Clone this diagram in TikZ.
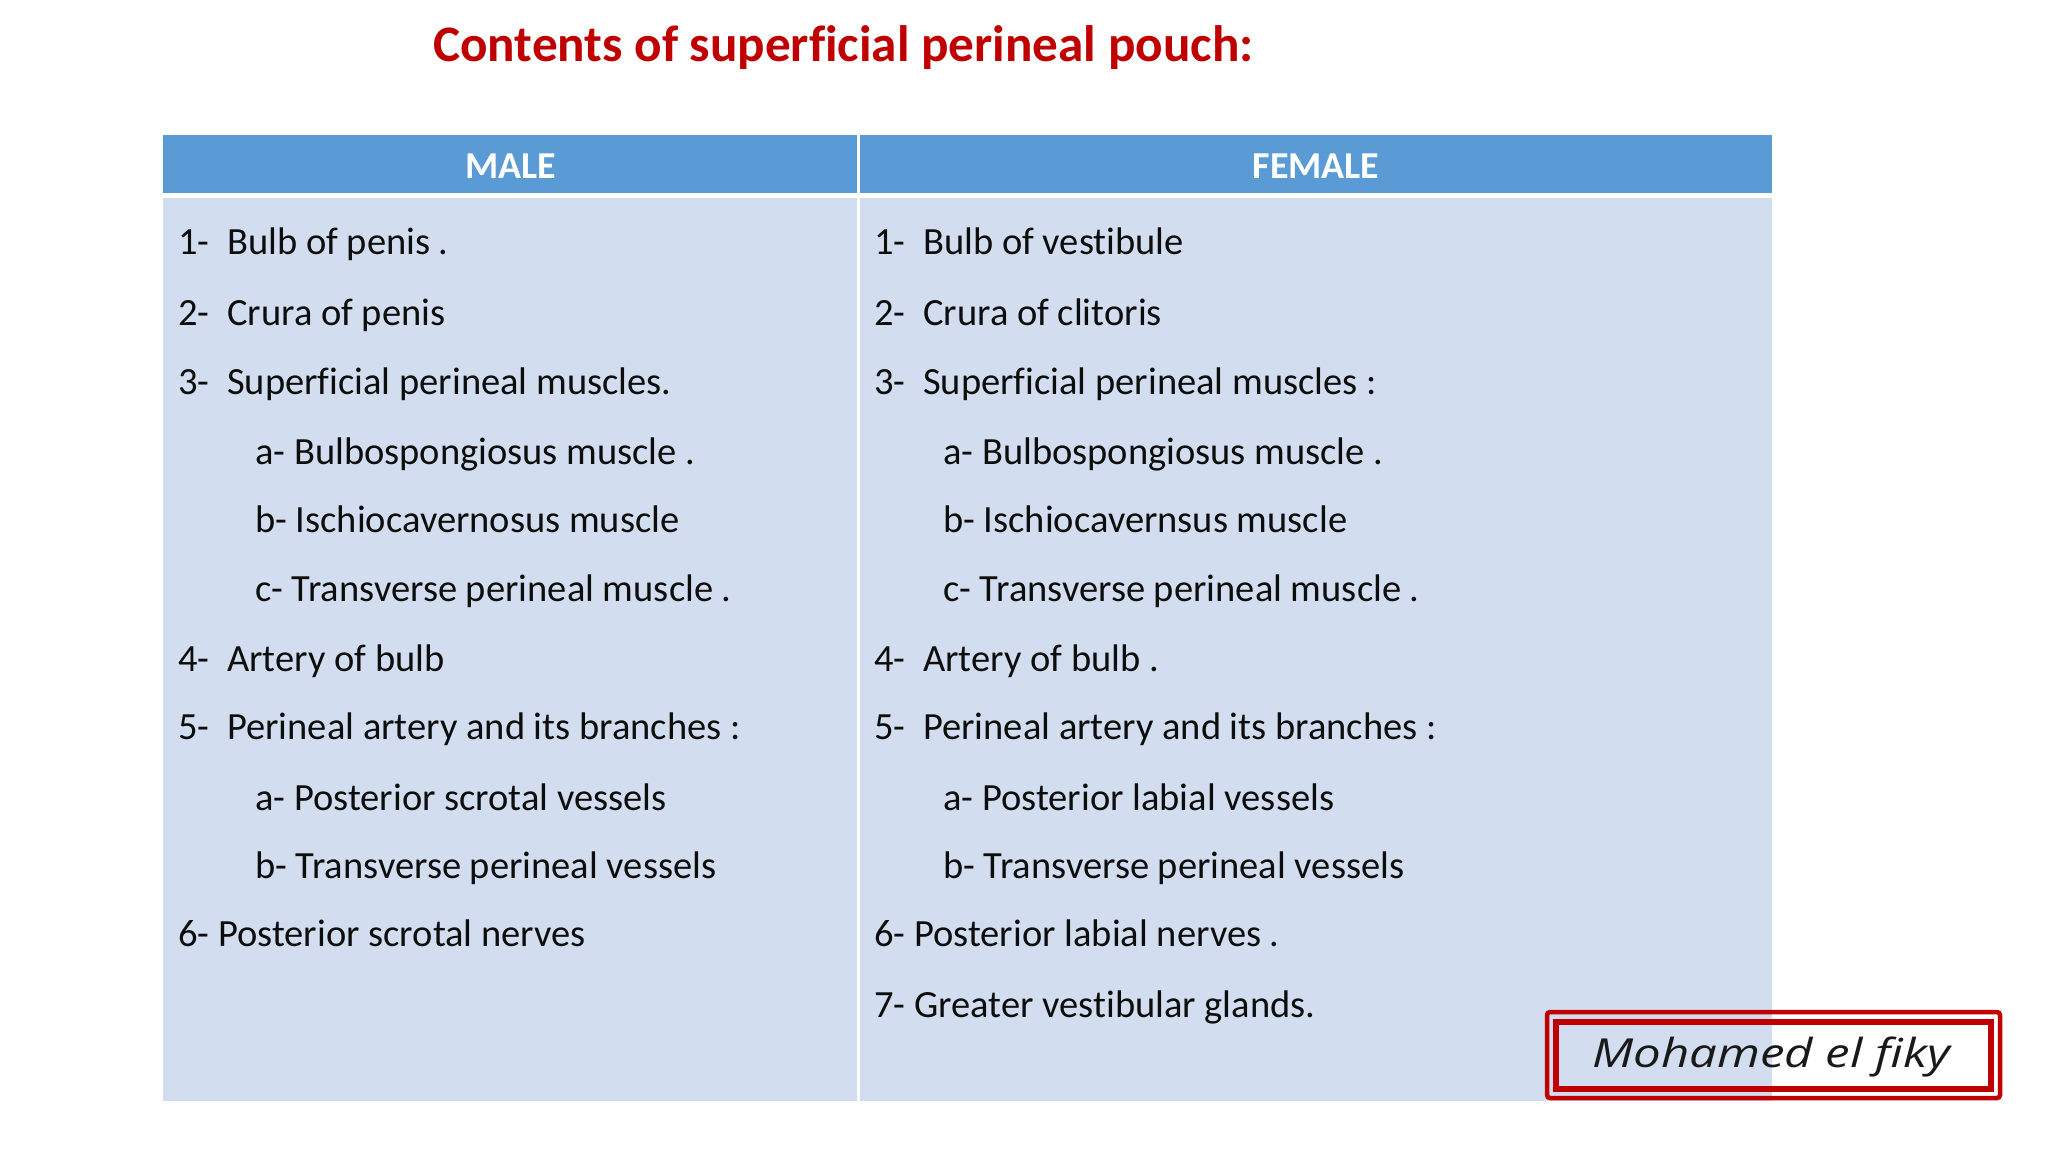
\documentclass[tikz,border=0pt]{standalone}
\usepackage{fontspec}
\setmainfont{Carlito}[Ligatures=NoCommon]
\newfontfamily\handfont{Open Sans}
\definecolor{hdr}{HTML}{5B9BD5}
\definecolor{bodyc}{HTML}{D2DEEF}
\definecolor{redc}{HTML}{C00000}
\newcommand{\numlab}[1]{\makebox[49pt][l]{#1}}
\tikzset{
  x=1pt,y=-1pt,
  row/.style={anchor=base west,inner sep=0pt,yshift=-1pt,font=\fontsize{38.5}{38.5}\selectfont,text=black!95},
  head/.style={anchor=base,inner sep=0pt,yshift=-1pt,font=\fontsize{38}{38}\selectfont\bfseries,text=white},
  band/.style={fill=hdr,draw=none},
  cell/.style={fill=bodyc,draw=none},
}
\begin{document}
\begin{tikzpicture}
\useasboundingbox (0,0) rectangle (2048,1152);
\fill[white] (0,0) rectangle (2048,1152);
\node[anchor=base west,inner sep=0pt,font=\fontsize{51.2}{51.2}\selectfont\bfseries,text=redc] (title) at (433,61) {Contents of superficial perineal pouch:};
\path[band] (163,135) rectangle (857,193);
\path[band] (860,135) rectangle (1772,193);
\path[cell] (163,198) rectangle (857,1101);
\path[cell] (860,198) rectangle (1772,1101);
\node[head] (male) at (511,177) {MALE};
\node[head] (female) at (1316,177) {FEMALE};
% male
\node[row] (m1) at (178,253) {\numlab{1-}Bulb of penis .};
\node[row] (m2) at (178,324) {\numlab{2-}Crura of penis};
\node[row] (m3) at (178,393) {\numlab{3-}Superficial perineal muscles.};
\node[row] (m3a) at (255,463) {a- Bulbospongiosus muscle .};
\node[row] (m3b) at (255,531) {b- Ischiocavernosus muscle};
\node[row] (m3c) at (255,600) {c- Transverse perineal muscle .};
\node[row] (m4) at (178,670) {\numlab{4-}Artery of bulb};
\node[row] (m5) at (178,738) {\numlab{5-}Perineal artery and its branches :};
\node[row] (m5a) at (255,809) {a- Posterior scrotal vessels};
\node[row] (m5b) at (255,877) {b- Transverse perineal vessels};
\node[row] (m6) at (178,945) {6- Posterior scrotal nerves};
% female
\node[row] (f1) at (874,253) {\numlab{1-}Bulb of vestibule};
\node[row] (f2) at (874,324) {\numlab{2-}Crura of clitoris};
\node[row] (f3) at (874,393) {\numlab{3-}Superficial perineal muscles :};
\node[row] (f3a) at (943,463) {a- Bulbospongiosus muscle .};
\node[row] (f3b) at (943,531) {b- Ischiocavernsus muscle};
\node[row] (f3c) at (943,600) {c- Transverse perineal muscle .};
\node[row] (f4) at (874,670) {\numlab{4-}Artery of bulb .};
\node[row] (f5) at (874,738) {\numlab{5-}Perineal artery and its branches :};
\node[row] (f5a) at (943,809) {a- Posterior labial vessels};
\node[row] (f5b) at (943,877) {b- Transverse perineal vessels};
\node[row] (f6) at (874,945) {6- Posterior labial nerves .};
\node[row] (f7) at (874,1016) {7- Greater vestibular glands.};
% signature
\draw[redc,line width=4.5pt,rounded corners=3pt] (1547,1012) rectangle (2000,1098);
\draw[redc,line width=5.5pt] (1556,1022) rectangle (1991,1089);
\node[anchor=base west,inner sep=0pt,font=\handfont\fontsize{40}{40}\selectfont\itshape,text=black!90] (sig) at (1592,1067) {\scalebox{1.23}[1]{Mohamed el fiky}};
\end{tikzpicture}
\end{document}
